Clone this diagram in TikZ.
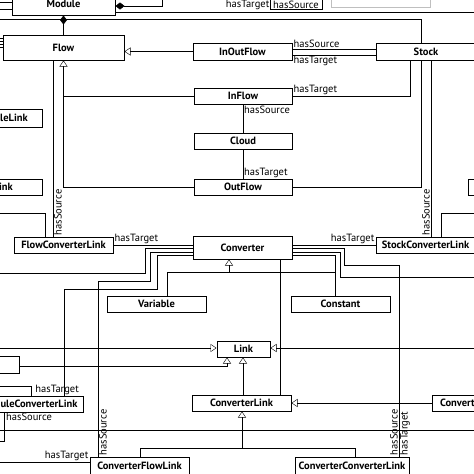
\documentclass[tikz,border=0pt]{standalone}
\usepackage{fontspec}
\setmainfont{PT Sans}
\usetikzlibrary{arrows.meta,backgrounds}
\begin{document}
\begin{tikzpicture}[x=1pt,y=-1pt,line width=1pt,
  box/.style={draw,fill=white,inner sep=0pt,font=\bfseries\fontsize{10.5}{10.5}\selectfont},
  lbl/.style={inner sep=1pt,font=\fontsize{10.5}{10.5}\selectfont},
  inh/.style={-{Triangle[open,length=6pt,width=8pt]}},
  comp/.style={-{Diamond[length=9pt,width=7pt]}}]
\useasboundingbox (0,0) rectangle (474,474);
\clip (0,0) rectangle (474,474);
% boxes
\node[box,minimum width=103pt,minimum height=22pt] (module) at (63.5,4) {Module};
\node[box,minimum width=121pt,minimum height=25pt] (flow) at (63.5,47.5) {Flow};
\node[box,minimum width=99pt,minimum height=17pt] (inoutflow) at (242.5,51.5) {InOutFlow};
\node[box,minimum width=100pt,minimum height=17pt] (stock) at (426,51.5) {Stock};
\node[box,minimum width=98pt,minimum height=16pt] (inflow) at (243,96) {InFlow};
\node[box,minimum width=98pt,minimum height=16pt] (cloud) at (243,141) {Cloud};
\node[box,minimum width=98pt,minimum height=16pt] (outflow) at (243,187) {OutFlow};
\node[box,minimum width=56pt,minimum height=18pt] (modlink) at (14,118) {leLink};
\node[box,minimum width=72pt,minimum height=16pt] (inkbox) at (6,187) {ink};
\node[box,minimum width=30pt,minimum height=16pt] (rbox) at (483,187) {};
\node[box,minimum width=99pt,minimum height=16pt] (fcl) at (63.5,245) {FlowConverterLink};
\node[box,minimum width=99pt,minimum height=23pt] (converter) at (242.5,247.5) {Converter};
\node[box,minimum width=99pt,minimum height=16pt] (scl) at (425.5,245) {StockConverterLink};
\node[box,minimum width=99pt,minimum height=16pt] (variable) at (156.5,304) {Variable};
\node[box,minimum width=99pt,minimum height=16pt] (constant) at (340.5,304) {Constant};
\node[box,minimum width=40pt,minimum height=17pt] (sbox) at (-1,364.5) {};
\node[box,minimum width=53pt,minimum height=16pt] (link) at (243.5,349) {Link};
\node[box,minimum width=88pt,minimum height=16pt] (mcl) at (39,404) {uleConverterLink};
\node[box,minimum width=99pt,minimum height=16pt] (cl) at (241.5,403) {ConverterLink};
\node[box,minimum width=68pt,minimum height=16pt,text width=52pt,align=left] (rconv) at (466,403) {Convert};
\node[box,minimum width=99pt,minimum height=18pt] (cfl) at (139.5,466) {ConverterFlowLink};
\node[box,minimum width=114pt,minimum height=18pt] (ccl) at (352,466) {ConverterConverterLink};
\node[draw=gray!50,fill=white,inner sep=0pt,minimum width=99pt,minimum height=17pt] (note) at (380.5,-1.5) {};
\begin{pgfonlayer}{background}
\clip (0,0) rectangle (474,474);
\draw (module.west |- 0,2) -- (0,2);
\draw (module.west |- 0,9) -- (0,9);
\draw[comp] (162,-2) -- (162,6) -- (module.east |- 0,6);
\draw (module.east |- 0,12) -- (474,12);
\draw[comp] (flow.north) -- (module.south);
\draw (0,19) -- (421,19) -- (outflow.east -| 421,0) -- (outflow.east);
\foreach \yy in {38,41,44,47} \draw (flow.west |- 0,\yy) -- (0,\yy);
\draw (270,0) -- (270,9) node[lbl,midway,anchor=east,inner sep=0.5pt] {hasTarget} -- (322,9) node[lbl,midway,anchor=south,inner sep=0pt] {hasSource} -- (322,-2);
\draw[inh] (inoutflow.west) -- (flow.east |- inoutflow.west);
\draw (inoutflow.east |- 0,49) -- (stock.west |- 0,49) node[lbl,pos=0,anchor=south west] {hasSource};
\draw (inoutflow.east |- 0,55) -- (stock.west |- 0,55) node[lbl,pos=0,anchor=north west] {hasTarget};
\draw[inh] (outflow.west) -- (outflow.west -| 63.5,0) -- (flow.south);
\draw (inflow.west) -- (inflow.west -| 63.5,0);
\draw (flow.south -| 53,0) -- (fcl.north -| 53,0) node[lbl,pos=1,rotate=90,anchor=north west] {hasSource};
\draw (stock.south -| 410,0) -- (410,96) -- (inflow.east) node[lbl,pos=1,anchor=south west] {hasTarget};
\draw (inflow.south) -- (cloud.north) node[lbl,pos=0,anchor=north west] {hasSource};
\draw (cloud.south) -- (outflow.north) node[lbl,pos=1,anchor=south west] {hasTarget};
\draw (stock.south -| 431,0) -- (scl.north -| 431,0) node[lbl,pos=1,rotate=90,anchor=south west] {hasSource};
\draw (scl.north -| 441,0) -- (441,213) -- (474,213);
\draw (fcl.north -| 45,0) -- (45,213) -- (0,213);
\draw (fcl.east) -- (converter.west |- fcl.east) node[lbl,pos=0,anchor=south west] {hasTarget};
\draw (converter.west |- 0,248.5) -- (145,248.5) -- (145,273) -- (0,273);
\draw (converter.west |- 0,252) -- (150,252) -- (150,281) -- (98,281) -- (cfl.north -| 98,0) node[lbl,pos=1,rotate=90,anchor=north west] {hasSource};
\draw (converter.west |- 0,255.5) -- (157,255.5) -- (157,289) -- (64,289) -- (mcl.north -| 64,0) node[lbl,pos=1,anchor=south east,xshift=16pt] {hasTarget};
\draw (converter.east |- scl.west) -- (scl.west) node[lbl,pos=1,anchor=south east] {hasTarget};
\draw (converter.east |- 0,248.5) -- (344,248.5) -- (344,265) -- (399,265) -- (ccl.north -| 399,0)
  node[lbl,pos=1,rotate=90,anchor=south west] {hasSource}
  node[lbl,pos=1,rotate=90,anchor=north west] {hasTarget};
\draw (converter.east |- 0,252) -- (340,252) -- (340,277) -- (474,277);
\draw (converter.east |- 0,255.5) -- (335,255.5) -- (constant.north -| 335,0);
\draw (variable.north -| 167,0) -- (167,272) -- (335,272);
\draw[inh] (229,272) -- (converter.south -| 229,0);
\draw (converter.south -| 280,0) -- (cl.north -| 280,0);
\draw[inh] (0,348) -- (link.west |- 0,348);
\draw[inh] (474,348) -- (link.east |- 0,348);
\draw[inh] (sbox.east |- 0,366) -- (227,366) -- (link.south -| 227,0);
\draw[inh] (cl.north -| 243,0) -- (link.south -| 243,0);
\draw[inh] (rconv.west) -- (cl.east);
\draw[inh] (ccl.north -| 355,0) -- (355,448) -- (242,448) -- (cl.south -| 242,0);
\draw (cfl.north -| 140,0) -- (140,448) -- (242,448);
\draw (0,430) -- (474,430);
\draw (mcl.north -| 31,0) -- (31,386) -- (0,386);
\draw (mcl.south -| 4,0) -- (4,441) -- (0,441);
\node[lbl,anchor=north west] at (5,412) {hasSource};
\draw (cfl.west |- 0,462) -- (0,462) node[lbl,pos=0,anchor=south east] {hasTarget};
\end{pgfonlayer}
\end{tikzpicture}
\end{document}
